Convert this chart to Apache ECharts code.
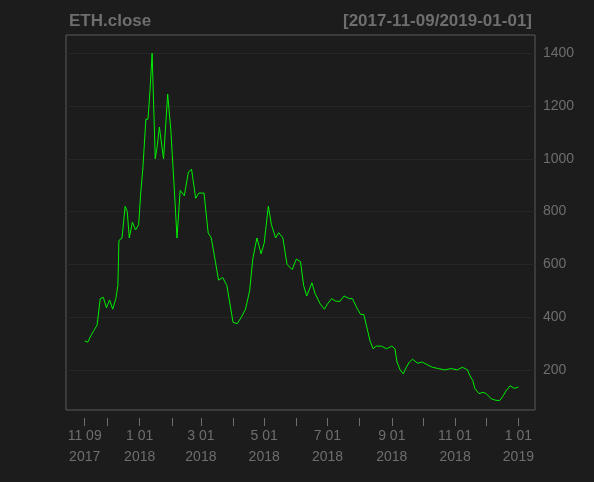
<!DOCTYPE html>
<html><head><meta charset="utf-8">
<script src="https://cdn.jsdelivr.net/npm/echarts@6/dist/echarts.min.js"></script>
<style>html,body{margin:0;background:#1c1c1c}#box{width:594px;height:482px}</style>
</head><body><div id="box"></div>
<script>
const dates = ['2017-11-09','2017-11-12','2017-11-15','2017-11-18','2017-11-21','2017-11-24','2017-11-27','2017-11-30','2017-12-03','2017-12-06','2017-12-09','2017-12-11','2017-12-12','2017-12-15','2017-12-18','2017-12-20','2017-12-22','2017-12-25','2017-12-28','2017-12-31','2018-01-02','2018-01-04','2018-01-07','2018-01-09','2018-01-11','2018-01-13','2018-01-16','2018-01-18','2018-01-20','2018-01-24','2018-01-28','2018-01-31','2018-02-03','2018-02-06','2018-02-09','2018-02-13','2018-02-17','2018-02-20','2018-02-24','2018-02-27','2018-03-04','2018-03-08','2018-03-11','2018-03-15','2018-03-18','2018-03-22','2018-03-26','2018-03-29','2018-04-01','2018-04-05','2018-04-09','2018-04-13','2018-04-17','2018-04-20','2018-04-24','2018-04-28','2018-05-01','2018-05-05','2018-05-08','2018-05-12','2018-05-15','2018-05-19','2018-05-23','2018-05-28','2018-06-01','2018-06-05','2018-06-08','2018-06-11','2018-06-13','2018-06-16','2018-06-19','2018-06-24','2018-06-28','2018-07-01','2018-07-05','2018-07-09','2018-07-13','2018-07-17','2018-07-22','2018-07-25','2018-07-30','2018-08-02','2018-08-05','2018-08-08','2018-08-11','2018-08-14','2018-08-17','2018-08-22','2018-08-27','2018-09-01','2018-09-04','2018-09-06','2018-09-09','2018-09-12','2018-09-15','2018-09-18','2018-09-21','2018-09-26','2018-09-30','2018-10-05','2018-10-10','2018-10-16','2018-10-22','2018-10-28','2018-11-03','2018-11-08','2018-11-13','2018-11-15','2018-11-18','2018-11-20','2018-11-24','2018-11-28','2018-12-01','2018-12-06','2018-12-10','2018-12-14','2018-12-17','2018-12-20','2018-12-24','2018-12-28','2019-01-01'];
const closes = [310,305,330,350,370,470,475,435,465,430,470,520,690,700,820,800,700,760,730,750,870,960,1150,1150,1260,1400,1000,1050,1120,1000,1245,1110,910,700,880,860,950,960,850,870,870,720,700,610,540,550,520,450,380,375,400,430,500,620,700,640,680,820,750,700,720,700,600,580,620,610,520,480,500,530,490,450,430,450,470,460,460,480,470,470,430,410,410,360,310,280,290,290,280,290,280,230,200,185,210,230,240,225,230,220,210,205,200,205,200,210,200,180,160,130,110,115,110,90,85,84,100,120,140,130,135];
const tickDates = ['2017-11-09','2017-12-01','2018-01-01','2018-02-01','2018-03-01','2018-04-01','2018-05-01','2018-06-01','2018-07-01','2018-08-01','2018-09-01','2018-10-01','2018-11-01','2018-12-01','2019-01-01'];
const labelDates = ['2017-11-09','2018-01-01','2018-03-01','2018-05-01','2018-07-01','2018-09-01','2018-11-01','2019-01-01'];
const yTicks = [200,400,600,800,1000,1200,1400];

const t0 = Date.UTC(2017, 10, 9);
const day = s => { const [y, m, d] = s.split('-').map(Number); return (Date.UTC(y, m - 1, d) - t0) / 86400000 };
const labelText = {};
labelDates.forEach(s => { const [y, m, d] = s.split('-'); labelText[day(s)] = (+m) + ' ' + d + '\n' + y });

const chart = echarts.init(document.getElementById('box'));
chart.setOption({
  backgroundColor: '#1c1c1c',
  animation: false,
  title: [
    { text: 'ETH.close', left: 64, top: 8, textStyle: { color: '#6e6e6e', fontSize: 17, fontWeight: 'bold', fontFamily: 'Liberation Sans' } },
    { text: '[2017-11-09/2019-01-01]', right: 57, top: 8, textStyle: { color: '#6e6e6e', fontSize: 17, fontWeight: 'bold', fontFamily: 'Liberation Sans' } }
  ],
  grid: { left: 66, right: 59, top: 35, bottom: 72, show: true, borderColor: '#5a5a5a', borderWidth: 1 },
  xAxis: {
    type: 'value', min: -18, max: 434, offset: 8,
    axisLine: { show: false },
    axisTick: { show: true, customValues: tickDates.map(day), length: 8, lineStyle: { color: '#6e6e6e' } },
    axisLabel: { customValues: labelDates.map(day), formatter: v => labelText[Math.round(v)] || '', color: '#6e6e6e', fontSize: 14, lineHeight: 21, fontFamily: 'Liberation Sans', margin: 8 },
    splitLine: { show: false }
  },
  yAxis: {
    type: 'value', position: 'right', min: 48, max: 1469,
    axisLine: { show: false },
    axisTick: { show: false, customValues: yTicks },
    axisLabel: { customValues: yTicks, formatter: v => String(v), color: '#6e6e6e', fontSize: 14, fontFamily: 'Liberation Sans', margin: 8 },
    splitLine: { show: true, lineStyle: { color: '#262626' } }
  },
  series: [{
    type: 'line', showSymbol: false,
    lineStyle: { color: '#00ee00', width: 1 },
    data: dates.map((d, i) => [day(d), closes[i]])
  }]
});
</script></body></html>
